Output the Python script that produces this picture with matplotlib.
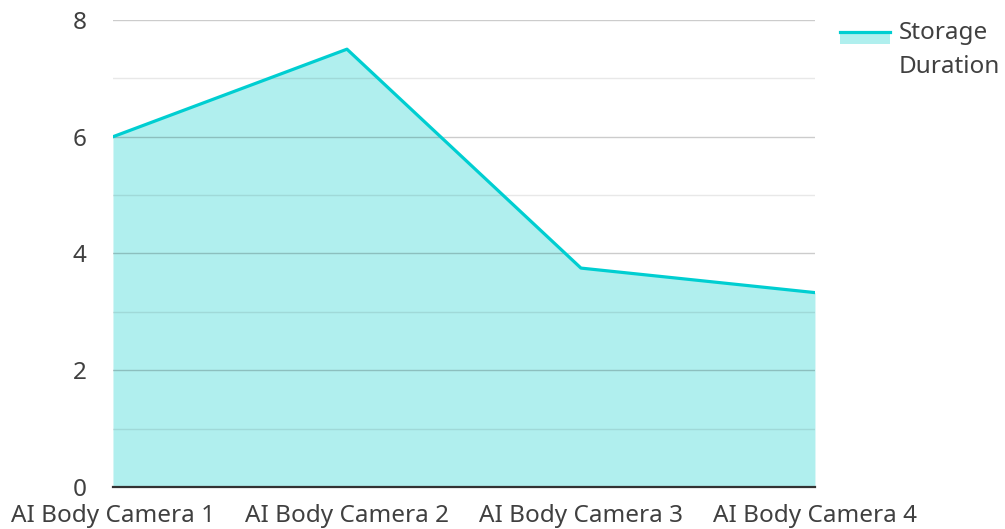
import numpy as np
import matplotlib.pyplot as plt
from matplotlib.lines import Line2D
from matplotlib.patches import Rectangle

# Данные
cameras = ['AI Body Camera 1', 'AI Body Camera 2', 'AI Body Camera 3', 'AI Body Camera 4']
storage_duration = [6.0, 7.5, 3.75, 3.33]
y_ticks = [0, 2, 4, 6, 8]
series_name = 'Storage\nDuration'

line_color = '#00CED1'
fill_color = '#B0EFEE'
text_color = '#404040'

plt.rcParams['font.family'] = ['Noto Sans', 'DejaVu Sans']

fig = plt.figure(figsize=(10.05, 5.29), dpi=100)
ax = fig.add_axes([0.1124, 0.0794, 0.6985, 0.8828])

x = np.arange(len(cameras))
ax.fill_between(x, 0, storage_duration, color=fill_color, zorder=1, linewidth=0)
ax.plot(x, storage_duration, color=line_color, linewidth=2.3, zorder=3)

ax.set_xlim(0, len(cameras) - 1)
ax.set_ylim(0, 8)
ax.set_xticks(x)
ax.set_xticklabels(cameras)
ax.set_yticks(y_ticks)
ax.set_yticks([1, 3, 5, 7], minor=True)

# Сетка
ax.grid(axis='y', which='major', color='black', alpha=0.2, linewidth=1, zorder=2)
ax.grid(axis='y', which='minor', color='black', alpha=0.09, linewidth=1, zorder=2)
ax.set_axisbelow(False)

for s in ['top', 'right', 'left']:
    ax.spines[s].set_visible(False)
ax.spines['bottom'].set_color('#333333')
ax.spines['bottom'].set_linewidth(1.6)
ax.spines['bottom'].set_zorder(4)

ax.tick_params(axis='both', which='both', length=0, labelsize=17.5, colors=text_color)
ax.tick_params(axis='y', pad=19)
ax.tick_params(axis='x', pad=12)

# Легенда
fig.add_artist(Rectangle((840 / 1005, 1 - 44 / 529), 50 / 1005, 11 / 529,
                         transform=fig.transFigure, color=fill_color, linewidth=0))
fig.add_artist(Line2D([840 / 1005, 890 / 1005], [1 - 32 / 529, 1 - 32 / 529],
                      transform=fig.transFigure, color=line_color, linewidth=2.3))
fig.text(899 / 1005, 1 - 21 / 529, series_name, fontsize=17.5, color=text_color,
         va='top', ha='left', linespacing=1.55)

fig.savefig('out.png', dpi=100)
